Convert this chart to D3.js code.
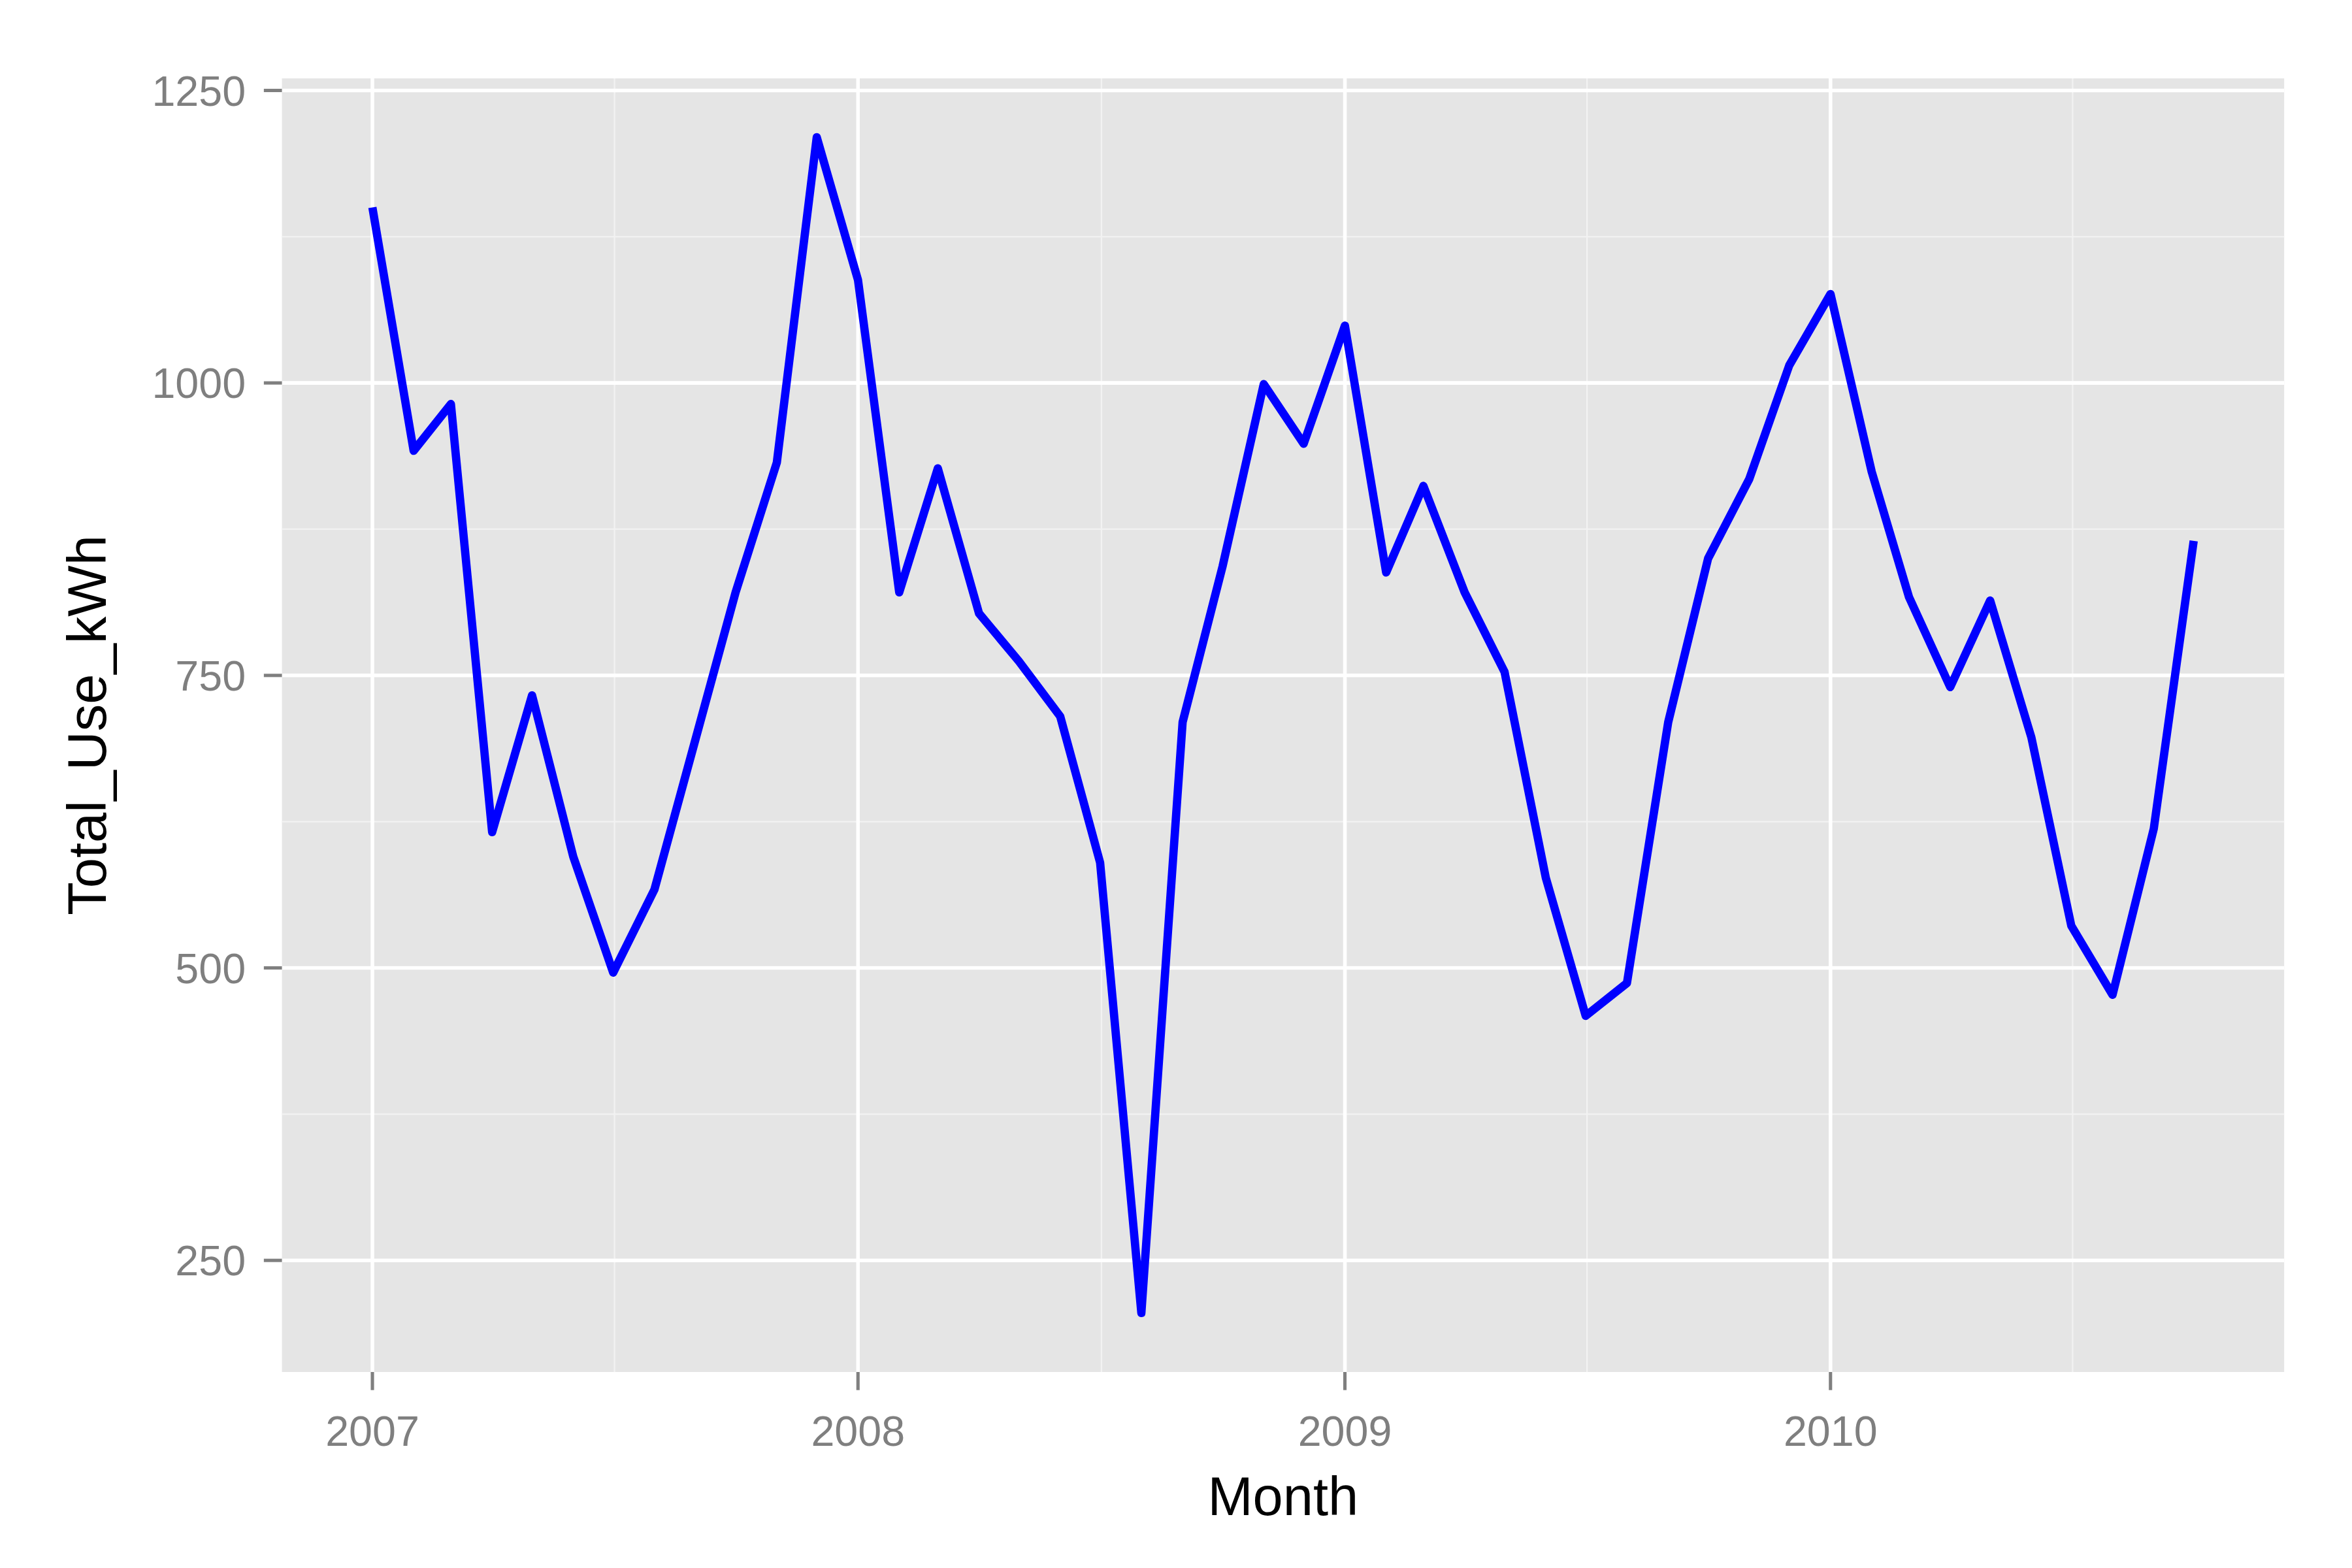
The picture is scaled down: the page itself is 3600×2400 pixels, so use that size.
<!DOCTYPE html>
<html><head><meta charset="utf-8">
<script src="https://cdn.jsdelivr.net/npm/d3@7"></script>
<style>body{margin:0;background:#fff}</style></head>
<body><svg id="c" width="3600" height="2400" viewBox="0 0 1560 1040"></svg>
<script>
const months = d3.range(46).map(i => new Date(2007, i, 1));
const values = [1150,942,982,616,733,595,496,567,696,821,932,1210,
1088,821,927,803,762,715,590,205,710,843,999,948,
1049,838,912,821,753,577,459,487,710,850,918,1015,
1076,924,817,740,814,697,536,477,619,865];
const yTicks = [250,500,750,1000,1250];
const yMinor = [375,625,875,1125];
const xTicks = [2007,2008,2009,2010];
const xMinor = [2007,2008,2009,2010];

const svg = d3.select("#c");
const L=187,R=1515,T=52,B=910;
const F="Liberation Sans, Arial";
const x = d3.scaleTime().domain([new Date(2006,9,25), new Date(2010,11,8)]).range([L,R]);
const y = d3.scaleLinear().domain([154.6,1260.3]).range([B,T]);
svg.append("rect").attr("x",L).attr("y",T).attr("width",R-L).attr("height",B-T).attr("fill","#e5e5e5");
const g = svg.append("g");
yMinor.forEach(v=>g.append("line").attr("x1",L).attr("x2",R).attr("y1",y(v)).attr("y2",y(v)).attr("stroke","#f2f2f2").attr("stroke-width",1));
xMinor.forEach(v=>g.append("line").attr("y1",T).attr("y2",B).attr("x1",x(new Date(v,6,2))).attr("x2",x(new Date(v,6,2))).attr("stroke","#f2f2f2").attr("stroke-width",1));
yTicks.forEach(v=>{
  g.append("line").attr("x1",L).attr("x2",R).attr("y1",y(v)).attr("y2",y(v)).attr("stroke","#fff").attr("stroke-width",2.4);
  g.append("line").attr("x1",L-12).attr("x2",L).attr("y1",y(v)).attr("y2",y(v)).attr("stroke","#7f7f7f").attr("stroke-width",2.2);
  g.append("text").attr("x",L-24).attr("y",y(v)).attr("dy","0.36em").attr("text-anchor","end").attr("fill","#7f7f7f").attr("font-family",F).attr("font-size",28).text(v);
});
xTicks.forEach(v=>{
  const px=x(new Date(v,0,1));
  g.append("line").attr("y1",T).attr("y2",B).attr("x1",px).attr("x2",px).attr("stroke","#fff").attr("stroke-width",2.4);
  g.append("line").attr("y1",B).attr("y2",B+12).attr("x1",px).attr("x2",px).attr("stroke","#7f7f7f").attr("stroke-width",2.2);
  g.append("text").attr("x",px).attr("y",B+49).attr("text-anchor","middle").attr("fill","#7f7f7f").attr("font-family",F).attr("font-size",28).text(v);
});
svg.append("path").datum(months.map((d,i)=>[d,values[i]]))
  .attr("d",d3.line().x(d=>x(d[0])).y(d=>y(d[1])))
  .attr("fill","none").attr("stroke","#0000ff").attr("stroke-width",5.5).attr("stroke-linejoin","round");
svg.append("text").attr("x",(L+R)/2).attr("y",1005).attr("text-anchor","middle").attr("font-family",F).attr("font-size",36).text("Month");
svg.append("text").attr("transform",`translate(70,${(T+B)/2}) rotate(-90)`).attr("text-anchor","middle").attr("font-family",F).attr("font-size",36).text("Total_Use_kWh");
</script></body></html>
